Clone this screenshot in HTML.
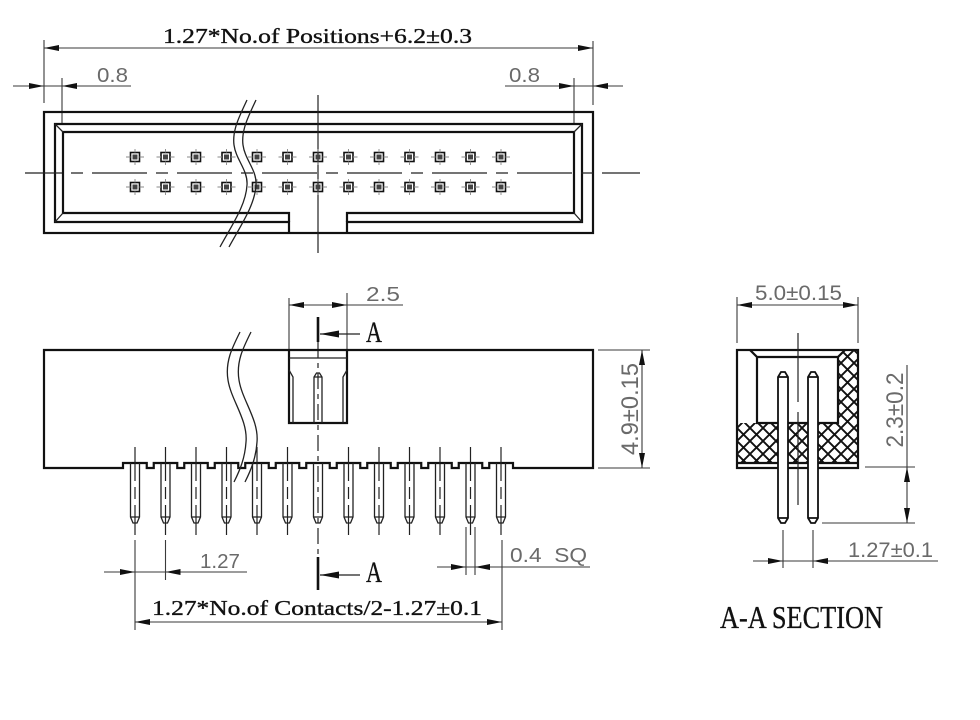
<!DOCTYPE html>
<html><head><meta charset="utf-8"><style>
html,body{margin:0;padding:0;background:#fff;}
svg{display:block;}
.o{fill:none;stroke:#111;stroke-width:2.2;}
.t{fill:none;stroke:#222;stroke-width:1.3;}
.d{fill:none;stroke:#3a3a3a;stroke-width:1.1;}
.ar{fill:#111;}
.g{font-family:"Liberation Sans",sans-serif;fill:#6a6a6a;}
.s{font-family:"Liberation Serif",serif;fill:#111;stroke:#111;stroke-width:0.35;}
</style></head><body>
<svg width="980" height="720" viewBox="0 0 980 720" xmlns="http://www.w3.org/2000/svg">
<defs>
<pattern id="h" patternUnits="userSpaceOnUse" width="13" height="13" x="737" y="350">
<path d="M-1,-1 L14,14 M14,-1 L-1,14" stroke="#111" stroke-width="1.9"/>
</pattern>
<g id="tp">
<rect x="-4.5" y="-4.5" width="9" height="9" fill="none" stroke="#111" stroke-width="1.6"/>
<rect x="-2.5" y="-2.5" width="5" height="5" fill="#444"/>
<path d="M-9,0 H-4.5 M4.5,0 H9 M0,-8 V-4.5 M0,4.5 V8" stroke="#888" stroke-width="0.9"/>
</g>
</defs>

<!-- ================= TOP VIEW ================= -->
<path class="d" d="M44,48 H593 M44,40 V103 M593,41 V105"/>
<polygon class="ar" points="44,48 59,45 59,51"/>
<polygon class="ar" points="593,48 578,45 578,51"/>
<text class="s" x="163" y="43" font-size="21" textLength="309" lengthAdjust="spacingAndGlyphs">1.27*No.of Positions+6.2±0.3</text>

<path class="d" d="M13,86 H131 M62,78 V124"/>
<polygon class="ar" points="44,86 29,83 29,89"/>
<polygon class="ar" points="62,86 77,83 77,89"/>
<text class="g" x="97" y="82" font-size="20" textLength="31" lengthAdjust="spacingAndGlyphs">0.8</text>

<path class="d" d="M505,86 H623 M574,78 V124"/>
<polygon class="ar" points="574,86 559,83 559,89"/>
<polygon class="ar" points="593,86 608,83 608,89"/>
<text class="g" x="509" y="82" font-size="20" textLength="31" lengthAdjust="spacingAndGlyphs">0.8</text>

<rect class="o" x="44" y="112" width="549" height="121"/>
<path class="o" d="M289,233 V222 H55 V124 H582 V222 H347 V233"/>
<path class="o" d="M289,222 V213 H63 V132 H574 V213 H347 V222"/>
<path class="t" d="M55,124 L63,132 M582,124 L574,132 M55,222 L63,213 M582,222 L574,213"/>

<line x1="25" y1="173" x2="640" y2="173" stroke="#222" stroke-width="1.2" stroke-dasharray="55 9 12 9" stroke-dashoffset="18"/>
<line x1="318" y1="95" x2="318" y2="253" stroke="#222" stroke-width="1.2"/>

<use href="#tp" x="135" y="157"/><use href="#tp" x="165.5" y="157"/><use href="#tp" x="196" y="157"/><use href="#tp" x="226.5" y="157"/><use href="#tp" x="257" y="157"/><use href="#tp" x="287.5" y="157"/><use href="#tp" x="318" y="157"/><use href="#tp" x="348.5" y="157"/><use href="#tp" x="379" y="157"/><use href="#tp" x="409.5" y="157"/><use href="#tp" x="440" y="157"/><use href="#tp" x="470.5" y="157"/><use href="#tp" x="501" y="157"/>
<use href="#tp" x="135" y="187"/><use href="#tp" x="165.5" y="187"/><use href="#tp" x="196" y="187"/><use href="#tp" x="226.5" y="187"/><use href="#tp" x="257" y="187"/><use href="#tp" x="287.5" y="187"/><use href="#tp" x="318" y="187"/><use href="#tp" x="348.5" y="187"/><use href="#tp" x="379" y="187"/><use href="#tp" x="409.5" y="187"/><use href="#tp" x="440" y="187"/><use href="#tp" x="470.5" y="187"/><use href="#tp" x="501" y="187"/>

<path class="t" d="M247,100 C240,115 232,130 234,145 C236,160 248,170 247,185 C246,205 232,225 220,247"/>
<path class="t" d="M256,100 C249,115 241,130 243,145 C245,160 257,170 256,185 C255,205 241,225 229,247"/>

<!-- ================= FRONT VIEW ================= -->
<path class="d" d="M289,298 V350 M347,293 V350 M289,305 H403"/>
<polygon class="ar" points="289,305 304,302 304,308"/>
<polygon class="ar" points="347,305 332,302 332,308"/>
<text class="g" x="366" y="301" font-size="20" textLength="34" lengthAdjust="spacingAndGlyphs">2.5</text>

<line x1="318" y1="317" x2="318" y2="342" stroke="#111" stroke-width="2.6"/>
<line x1="320" y1="334" x2="360" y2="334" stroke="#222" stroke-width="1.3"/>
<polygon class="ar" points="320,334 339,330.5 339,337.5"/>
<text class="s" x="366" y="342" font-size="30" textLength="16" lengthAdjust="spacingAndGlyphs">A</text>

<line x1="318" y1="557" x2="318" y2="590" stroke="#111" stroke-width="2.6"/>
<line x1="320" y1="575" x2="360" y2="575" stroke="#222" stroke-width="1.3"/>
<polygon class="ar" points="320,575 339,571.5 339,578.5"/>
<text class="s" x="366" y="582" font-size="30" textLength="16" lengthAdjust="spacingAndGlyphs">A</text>

<line x1="318" y1="342" x2="318" y2="557" stroke="#222" stroke-width="1.2" stroke-dasharray="16 5 5 5"/>

<path class="o" d="M44,350 H593 V468 H513 V463 H489.25 V468 H482.25 V463 H458.75 V468 H451.75 V463 H428.25 V468 H421.25 V463 H397.75 V468 H390.75 V463 H367.25 V468 H360.25 V463 H336.75 V468 H329.75 V463 H306.25 V468 H299.25 V463 H275.75 V468 H268.75 V463 H245.25 V468 H238.25 V463 H214.75 V468 H207.75 V463 H184.25 V468 H177.25 V463 H153.75 V468 H146.75 V463 H123 V468 H44 Z"/>

<path class="o" d="M289,350 V423 H347 V350"/>
<path class="t" d="M289,358 H347 M289,370 L293,377 V423 M347,370 L343,377 V423"/>
<path class="t" stroke-width="1.5" d="M314,423 V377 L316.5,373 H319.5 L322,377 V423 M314,377 H322"/>

<g class="t" stroke-width="1.6">
<path d="M130.5,463 V517 L133,523 H137 L139.5,517 V463 M130.5,517 H139.5"/>
<path d="M161,463 V517 L163.5,523 H167.5 L170,517 V463 M161,517 H170"/>
<path d="M191.5,463 V517 L194,523 H198 L200.5,517 V463 M191.5,517 H200.5"/>
<path d="M222,463 V517 L224.5,523 H228.5 L231,517 V463 M222,517 H231"/>
<path d="M252.5,463 V517 L255,523 H259 L261.5,517 V463 M252.5,517 H261.5"/>
<path d="M283,463 V517 L285.5,523 H289.5 L292,517 V463 M283,517 H292"/>
<path d="M313.5,463 V517 L316,523 H320 L322.5,517 V463 M313.5,517 H322.5"/>
<path d="M344,463 V517 L346.5,523 H350.5 L353,517 V463 M344,517 H353"/>
<path d="M374.5,463 V517 L377,523 H381 L383.5,517 V463 M374.5,517 H383.5"/>
<path d="M405,463 V517 L407.5,523 H411.5 L414,517 V463 M405,517 H414"/>
<path d="M435.5,463 V517 L438,523 H442 L444.5,517 V463 M435.5,517 H444.5"/>
<path d="M466,463 V517 L468.5,523 H472.5 L475,517 V463 M466,517 H475"/>
<path d="M496.5,463 V517 L499,523 H503 L505.5,517 V463 M496.5,517 H505.5"/>
</g>
<g stroke="#222" stroke-width="1.2" stroke-dasharray="34 6 12 6 60">
<line x1="135" y1="447" x2="135" y2="535"/>
<line x1="165.5" y1="447" x2="165.5" y2="535"/>
<line x1="196" y1="447" x2="196" y2="535"/>
<line x1="226.5" y1="447" x2="226.5" y2="535"/>
<line x1="257" y1="447" x2="257" y2="535"/>
<line x1="287.5" y1="447" x2="287.5" y2="535"/>
<line x1="348.5" y1="447" x2="348.5" y2="535"/>
<line x1="379" y1="447" x2="379" y2="535"/>
<line x1="409.5" y1="447" x2="409.5" y2="535"/>
<line x1="440" y1="447" x2="440" y2="535"/>
<line x1="470.5" y1="447" x2="470.5" y2="535"/>
<line x1="501" y1="447" x2="501" y2="535"/>
</g>

<path class="t" d="M240,332 C232,348 225,362 228,380 C231,400 248,420 246,442 C245,458 240,470 234,482"/>
<path class="t" d="M251,332 C243,348 236,362 239,380 C242,400 259,420 257,442 C256,458 251,470 245,482"/>

<path class="d" d="M598,350 H650 M598,468 H650 M642,350 V468"/>
<polygon class="ar" points="642,350 639,365 645,365"/>
<polygon class="ar" points="642,468 639,453 645,453"/>
<text class="g" x="638" y="409" font-size="24" text-anchor="middle" textLength="92" lengthAdjust="spacingAndGlyphs" transform="rotate(-90 638 409)">4.9±0.15</text>

<path class="d" d="M104,572 H247 M135,540 V630 M165.5,540 V580"/>
<polygon class="ar" points="135,572 120,569 120,575"/>
<polygon class="ar" points="165.5,572 180.5,569 180.5,575"/>
<text class="g" x="200" y="568" font-size="20" textLength="40" lengthAdjust="spacingAndGlyphs">1.27</text>

<path class="d" d="M135,622 H502 M502,540 V630"/>
<polygon class="ar" points="135,622 150,619 150,625"/>
<polygon class="ar" points="502,622 487,619 487,625"/>
<text class="s" x="152" y="615" font-size="21" textLength="330" lengthAdjust="spacingAndGlyphs">1.27*No.of Contacts/2-1.27±0.1</text>

<path class="d" d="M437,567 H590 M466,527 V575 M475,527 V575"/>
<polygon class="ar" points="466,567 451,564 451,570"/>
<polygon class="ar" points="475,567 490,564 490,570"/>
<text class="g" x="510" y="562" font-size="20" textLength="77" lengthAdjust="spacingAndGlyphs" xml:space="preserve">0.4  SQ</text>

<!-- ================= SECTION A-A ================= -->
<path class="d" d="M737,297 V343 M858,297 V343 M737,305 H858"/>
<polygon class="ar" points="737,305 752,302 752,308"/>
<polygon class="ar" points="858,305 843,302 843,308"/>
<text class="g" x="755" y="300" font-size="21" textLength="87" lengthAdjust="spacingAndGlyphs">5.0±0.15</text>

<polygon points="845,350 858,350 858,463 737,463 737,423 838,423 838,357" fill="url(#h)"/>
<rect x="778" y="420" width="10" height="45" fill="#fff"/>
<rect x="808" y="420" width="10" height="45" fill="#fff"/>
<rect class="o" x="737" y="350" width="121" height="118"/>
<path class="o" d="M737,463 H858"/>
<path class="o" d="M750,350 L757,357 V423 H838 V357 L845,350 M757,357 H838"/>
<path d="M778,518 V377 L781,372 H785 L788,377 V518 L785,523 H781 Z M778,377 H788 M778,518 H788" fill="#fff" stroke="#111" stroke-width="1.8"/>
<path d="M808,518 V377 L811,372 H815 L818,377 V518 L815,523 H811 Z M808,377 H818 M808,518 H818" fill="#fff" stroke="#111" stroke-width="1.8"/>
<path d="M798,333 V402 M798,412 V505" stroke="#222" stroke-width="1.2"/>

<path class="d" d="M865,467 H915 M822,523 H915 M907,365 V523"/>
<polygon class="ar" points="907,467 904,482 910,482"/>
<polygon class="ar" points="907,523 904,508 910,508"/>
<text class="g" x="903" y="410" font-size="24" text-anchor="middle" textLength="75" lengthAdjust="spacingAndGlyphs" transform="rotate(-90 903 410)">2.3±0.2</text>

<path class="d" d="M753,561 H938 M783,530 V568 M813,530 V568"/>
<polygon class="ar" points="783,561 768,558 768,564"/>
<polygon class="ar" points="813,561 828,558 828,564"/>
<text class="g" x="848" y="557" font-size="21" textLength="85" lengthAdjust="spacingAndGlyphs">1.27±0.1</text>

<text class="s" x="720" y="628" font-size="32" textLength="163" lengthAdjust="spacingAndGlyphs">A-A SECTION</text>
</svg>
</body></html>
